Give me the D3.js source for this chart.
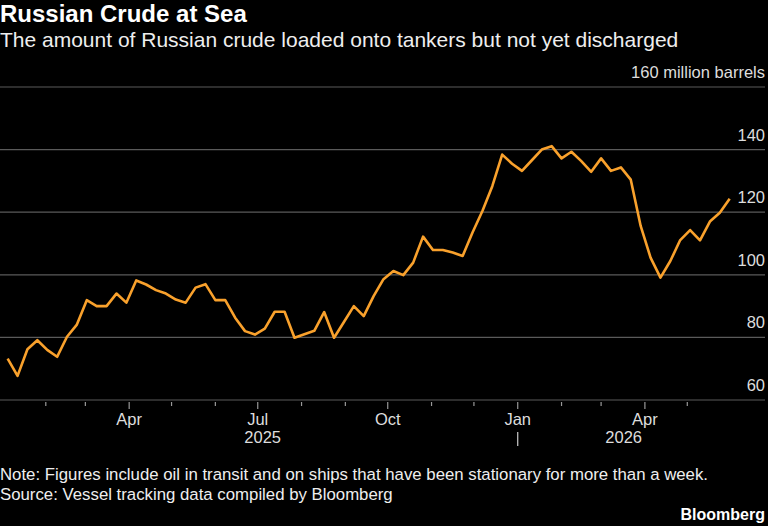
<!DOCTYPE html>
<html>
  <head>
    <style>
      body,
      html {
        margin: 0;
        background: #000;
      }
      text {
        font-family: 'Liberation Sans Narrow', 'Liberation Sans', Arial, sans-serif;
      }
    </style>
  </head>
  <body>
    <svg id="svg" width="768" height="526"></svg>
    <script src="https://cdn.jsdelivr.net/npm/d3@7"></script>
    <script>
      const width = 768;
      const height = 526;

      // weekly observation dates
      const dates = [
        '2025-01-05', '2025-01-12', '2025-01-19', '2025-01-26',
        '2025-02-02', '2025-02-09', '2025-02-16', '2025-02-23',
        '2025-03-02', '2025-03-09', '2025-03-16', '2025-03-23', '2025-03-30',
        '2025-04-06', '2025-04-13', '2025-04-20', '2025-04-27',
        '2025-05-04', '2025-05-11', '2025-05-18', '2025-05-25',
        '2025-06-01', '2025-06-08', '2025-06-15', '2025-06-22', '2025-06-29',
        '2025-07-06', '2025-07-13', '2025-07-20', '2025-07-27',
        '2025-08-03', '2025-08-10', '2025-08-17', '2025-08-24', '2025-08-31',
        '2025-09-07', '2025-09-14', '2025-09-21', '2025-09-28',
        '2025-10-05', '2025-10-12', '2025-10-19', '2025-10-26',
        '2025-11-02', '2025-11-09', '2025-11-16', '2025-11-23', '2025-11-30',
        '2025-12-07', '2025-12-14', '2025-12-21', '2025-12-28',
        '2026-01-04', '2026-01-11', '2026-01-18', '2026-01-25',
        '2026-02-01', '2026-02-08', '2026-02-15', '2026-02-22',
        '2026-03-01', '2026-03-08', '2026-03-15', '2026-03-22', '2026-03-29',
        '2026-04-05', '2026-04-12', '2026-04-19', '2026-04-26',
        '2026-05-03', '2026-05-10', '2026-05-17', '2026-05-24', '2026-05-31',
      ];

      // million barrels at sea
      const barrels = [
        73.2, 67.7, 76.2, 79.1, 76.0, 73.8, 80.2, 84.1, 91.9, 90.0,
        90.0, 94.0, 91.1, 98.2, 96.9, 95.1, 94.0, 92.1, 91.1, 95.9,
        97.0, 91.9, 91.9, 86.3, 82.0, 80.9, 82.8, 88.2, 88.2, 79.9,
        81.0, 82.1, 88.1, 79.9, 84.9, 90.0, 86.8, 93.2, 98.6, 101.2,
        99.9, 103.9, 112.2, 107.9, 107.9, 107.1, 106.0, 113.5, 120.4, 128.3,
        138.4, 135.5, 133.2, 136.6, 140.0, 141.1, 137.2, 139.3, 136.3, 132.9,
        137.2, 133.2, 134.3, 130.4, 115.6, 105.5, 99.1, 104.4, 111.1, 114.3,
        111.0, 117.0, 119.8, 124.3,
      ];

      const yTicks = [60, 80, 100, 120, 140, 160];
      const unitLabel = 'million barrels';
      const quarterMonths = ['Jan', 'Apr', 'Jul', 'Oct'];

      const parse = d3.timeParse('%Y-%m-%d');
      const data = dates.map((d, i) => ({ date: parse(d), value: barrels[i] }));

      const xScale = d3
        .scaleTime()
        .domain([parse('2025-01-01'), parse('2026-06-25')])
        .range([2, 765]);
      const yScale = d3.scaleLinear().domain([60, 160]).range([400, 87]);

      const svg = d3.select('#svg');

      // titles
      svg
        .append('text')
        .attr('x', 0)
        .attr('y', 22)
        .attr('fill', '#fff')
        .attr('font-size', 24)
        .attr('font-weight', 'bold')
        .text('Russian Crude at Sea');
      svg
        .append('text')
        .attr('x', 0)
        .attr('y', 47)
        .attr('fill', '#eee')
        .attr('font-size', 21)
        .text('The amount of Russian crude loaded onto tankers but not yet discharged');

      // gridlines + y labels
      const grid = svg.append('g');
      grid
        .selectAll('line')
        .data(yTicks)
        .join('line')
        .attr('x1', 0)
        .attr('x2', 765)
        .attr('y1', (d) => yScale(d))
        .attr('y2', (d) => yScale(d))
        .attr('stroke', '#5a5a5a')
        .attr('stroke-width', 1.2);
      grid
        .selectAll('text')
        .data(yTicks)
        .join('text')
        .attr('x', 765)
        .attr('y', (d) => yScale(d) - 9)
        .attr('text-anchor', 'end')
        .attr('fill', '#ddd')
        .attr('font-size', 16.5)
        .text((d, i) => (i === yTicks.length - 1 ? `${d} ${unitLabel}` : d));

      // x axis: month ticks inside data range
      const [first, last] = d3.extent(data, (d) => d.date);
      const months = d3.timeMonth.range(d3.timeMonth.ceil(first), last);
      const isQuarter = (d) => d.getMonth() % 3 === 0;
      const axis = svg.append('g');
      axis
        .selectAll('line')
        .data(months)
        .join('line')
        .attr('x1', (d) => xScale(d))
        .attr('x2', (d) => xScale(d))
        .attr('y1', 402)
        .attr('y2', (d) => (isQuarter(d) ? 409 : 406))
        .attr('stroke', '#999')
        .attr('stroke-width', 1.2);
      axis
        .selectAll('text.month')
        .data(months.filter(isQuarter))
        .join('text')
        .attr('class', 'month')
        .attr('x', (d) => xScale(d))
        .attr('y', 425)
        .attr('text-anchor', 'middle')
        .attr('fill', '#ddd')
        .attr('font-size', 16.5)
        .text((d) => quarterMonths[d.getMonth() / 3]);

      // year labels, centred on each year's part of the data
      const years = d3.timeYear.range(d3.timeYear.floor(first), last);
      axis
        .selectAll('text.year')
        .data(years)
        .join('text')
        .attr('class', 'year')
        .attr('x', (d) => {
          const a = d3.max([d, first]);
          const b = d3.min([d3.timeYear.offset(d, 1), last]);
          return (xScale(a) + xScale(b)) / 2;
        })
        .attr('y', 443)
        .attr('text-anchor', 'middle')
        .attr('fill', '#ddd')
        .attr('font-size', 16.5)
        .text((d) => d.getFullYear());
      axis
        .selectAll('line.sep')
        .data(years.slice(1))
        .join('line')
        .attr('class', 'sep')
        .attr('x1', (d) => xScale(d))
        .attr('x2', (d) => xScale(d))
        .attr('y1', 432)
        .attr('y2', 446)
        .attr('stroke', '#ccc')
        .attr('stroke-width', 1.2);

      // the line
      const line = d3
        .line()
        .x((d) => xScale(d.date))
        .y((d) => yScale(d.value));
      svg
        .append('path')
        .datum(data)
        .attr('d', line)
        .attr('fill', 'none')
        .attr('stroke', '#f9a12c')
        .attr('stroke-width', 2.6)
        .attr('stroke-linejoin', 'round');

      // footer
      svg
        .append('text')
        .attr('x', 0)
        .attr('y', 480)
        .attr('fill', '#eee')
        .attr('font-size', 16.8)
        .text(
          'Note: Figures include oil in transit and on ships that have been stationary for more than a week.'
        );
      svg
        .append('text')
        .attr('x', 0)
        .attr('y', 500)
        .attr('fill', '#eee')
        .attr('font-size', 16.8)
        .text('Source: Vessel tracking data compiled by Bloomberg');
      svg
        .append('text')
        .attr('x', 765)
        .attr('y', 520)
        .attr('text-anchor', 'end')
        .attr('fill', '#fff')
        .attr('font-size', 16)
        .attr('font-weight', 'bold')
        .text('Bloomberg');
    </script>
  </body>
</html>
